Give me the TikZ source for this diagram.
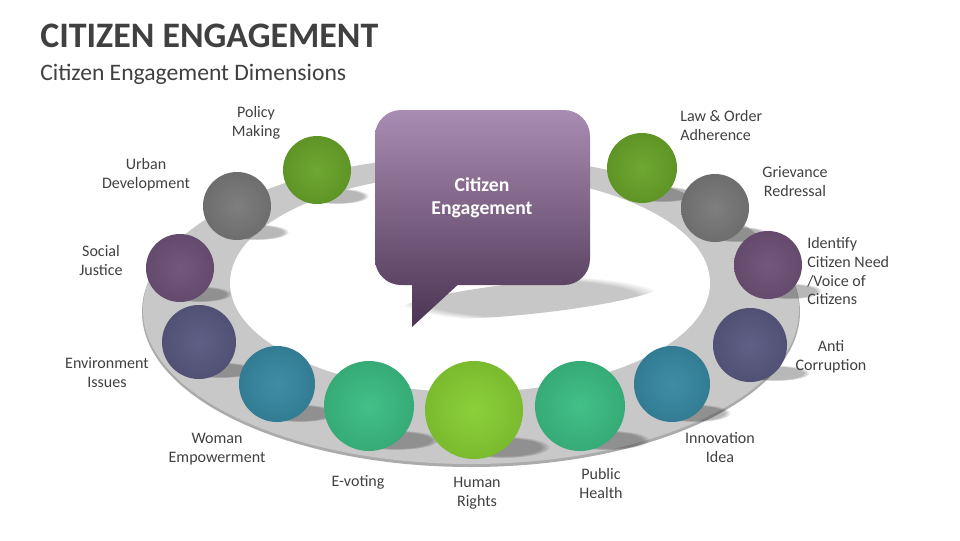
\documentclass[tikz,border=0pt]{standalone}
\usepackage{fontspec}
\setmainfont{Carlito}
\usepackage{tikz}
\usetikzlibrary{fadings}

\definecolor{ceText}{HTML}{404040}
\definecolor{ceRing}{HTML}{C8C8C8}
\definecolor{ceRim}{HTML}{ABABAB}
\definecolor{ceHubTop}{HTML}{A98CB2}
\definecolor{ceHubBot}{HTML}{4B3453}
\definecolor{ceGreen}{HTML}{62A020}
\definecolor{ceGray}{HTML}{737373}
\definecolor{cePurple}{HTML}{684A71}
\definecolor{ceSlate}{HTML}{52527C}
\definecolor{ceTeal}{HTML}{2E849E}
\definecolor{ceSea}{HTML}{33BA7E}
\definecolor{ceLime}{HTML}{82CC2A}
\colorlet{orbIn}{white}
\colorlet{orbOut}{black}

\pgfdeclareradialshading[orbIn,orbOut]{orb}{\pgfpoint{0bp}{0bp}}{color(0bp)=(orbIn); color(47bp)=(orbOut); color(50bp)=(orbOut)}

\begin{document}
\begin{tikzpicture}[x=0.025cm, y=-0.025cm,
	ball/.style={circle, inner sep=0pt, /utils/exec={\colorlet{orbIn}{#1!92!white}\colorlet{orbOut}{#1!82!black}}, shading=orb},
	blot/.style={fill=black, opacity=0.28, path fading=circle with fuzzy edge 20 percent},
	lbl/.style={text=ceText, align=center, inner sep=0pt, font=\fontsize{11.4}{13.5}\selectfont}]
	\useasboundingbox (0,0) rectangle (960,540);
	\node[anchor=base west, inner sep=0pt, text=ceText, font=\fontsize{25.5}{30}\selectfont\bfseries] (title) at (40,47) {CITIZEN ENGAGEMENT};
	\node[anchor=base west, inner sep=0pt, text=ceText, font=\fontsize{16.8}{20}\selectfont] (subtitle) at (40,80) {Citizen Engagement Dimensions};

	\fill[ceRim] (471,312) ellipse (329 and 155);
	\fill[ceRing] (471,310) ellipse (328 and 154);
	\fill[white] (470,283) ellipse (240 and 109);

	\fill[blot, opacity=0.22, rotate around={6:(530,298)}] (530,298) ellipse (135 and 16);
	\shade[top color=ceHubTop, bottom color=ceHubBot, rounded corners=0.65cm] (375,110) rectangle (590,285) [sharp corners] (412,280) -- (412,327) -- (463,280) -- cycle;
	\node[text=white, align=center, font=\fontsize{14}{16.5}\selectfont\bfseries] (hub) at (482,198) {Citizen\\Engagement};

	\fill[blot] (337,196) ellipse (32 and 8);
	\fill[blot] (257,232) ellipse (32 and 8);
	\fill[blot] (200,294) ellipse (32 and 8);
	\fill[blot] (221,370) ellipse (35 and 8);
	\fill[blot] (300,413) ellipse (36 and 9);
	\fill[blot] (396,440) ellipse (43 and 10);
	\fill[blot] (503,447) ellipse (47 and 11);
	\fill[blot] (607,440) ellipse (43 and 10);
	\fill[blot] (695,413) ellipse (36 and 9);
	\fill[blot] (775,373) ellipse (35 and 8);
	\fill[blot] (790,291) ellipse (32 and 8);
	\fill[blot] (737,234) ellipse (32 and 8);
	\fill[blot] (663,194) ellipse (33 and 8);

	\node[ball=ceGreen, minimum size=1.7cm] (policy) at (317,170) {};
	\node[ball=ceGray, minimum size=1.7cm] (urban) at (237,206) {};
	\node[ball=cePurple, minimum size=1.7cm] (social) at (180,268) {};
	\node[ball=ceSlate, minimum size=1.85cm] (environ) at (199,342) {};
	\node[ball=ceTeal, minimum size=1.9cm] (woman) at (277,384) {};
	\node[ball=ceSea, minimum size=2.25cm] (evoting) at (369,406) {};
	\node[ball=ceLime, minimum size=2.45cm] (rights) at (474,410) {};
	\node[ball=ceSea, minimum size=2.25cm] (health) at (580,406) {};
	\node[ball=ceTeal, minimum size=1.9cm] (innov) at (672,384) {};
	\node[ball=ceSlate, minimum size=1.85cm] (anticorr) at (750,345) {};
	\node[ball=cePurple, minimum size=1.7cm] (identify) at (768,265) {};
	\node[ball=ceGray, minimum size=1.7cm] (grievance) at (715,208) {};
	\node[ball=ceGreen, minimum size=1.75cm] (laworder) at (642,168) {};

	\node[lbl] (policytxt) at (256,123) {Policy\\Making};
	\node[lbl] (urbantxt) at (146,175) {Urban\\Development};
	\node[lbl] (socialtxt) at (101,260) {Social\\Justice};
	\node[lbl] (environtxt) at (107,373) {Environment\\Issues};
	\node[lbl] (womantxt) at (217,449) {Woman\\Empowerment};
	\node[lbl] (evotingtxt) at (358,482) {E-voting};
	\node[lbl] (rightstxt) at (477,493) {Human\\Rights};
	\node[lbl] (healthtxt) at (601,483) {Public\\Health};
	\node[lbl] (innovtxt) at (720,448) {Innovation\\Idea};
	\node[lbl] (anticorrtxt) at (831,357) {Anti\\Corruption};
	\node[lbl, anchor=west, align=left] (identifytxt) at (807,271) {Identify\\Citizen Need\\/Voice of\\Citizens};
	\node[lbl] (grievancetxt) at (795,182) {Grievance\\Redressal};
	\node[lbl, anchor=west, align=left] (laworderTxt) at (680,125) {Law \& Order\\Adherence};
\end{tikzpicture}
\end{document}
